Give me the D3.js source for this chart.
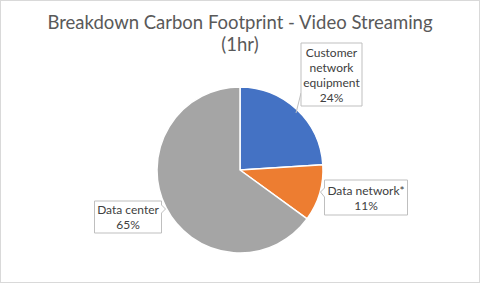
<!DOCTYPE html>
<html><head><meta charset="utf-8">
<script src="https://cdn.jsdelivr.net/npm/d3@7"></script>
<style>body{margin:0;background:#fff}svg{display:block}text{font-family:Lato,"Open Sans",sans-serif}</style>
</head><body><div id="chart"></div>
<script>
const categories = ["Customer network equipment", "Data network*", "Data center"];
const labelLines = [["Customer", "network", "equipment"], ["Data network*"], ["Data center"]];
const values = [24, 11, 65];
const percentLabels = ["24%", "11%", "65%"];
const colors = ["#4472c4", "#ed7d31", "#a5a5a5"];
const titleLines = ["Breakdown Carbon Footprint - Video Streaming", "(1hr)"];

const W = 480, H = 283;
const svg = d3.select("#chart").append("svg").attr("width", W).attr("height", H);
svg.append("rect").attr("x", 0.5).attr("y", 0.5).attr("width", W - 1).attr("height", H - 1)
  .attr("fill", "#fff").attr("stroke", "#d9d9d9");

const title = svg.append("text").attr("text-anchor", "middle").attr("fill", "#595959").style("font-size", "18.5px");
title.selectAll("tspan").data(titleLines).join("tspan").attr("x", 240).attr("y", (d, i) => 29 + i * 22).text(d => d);

const cx = 240, cy = 170, r = 83;
const pie = d3.pie().sort(null).value(d => d)(values);
const arc = d3.arc().innerRadius(0).outerRadius(r);
const g = svg.append("g").attr("transform", `translate(${cx},${cy})`);
g.selectAll("path").data(pie).join("path").attr("d", arc)
  .attr("fill", (d, i) => colors[i]).attr("stroke", "#fff").attr("stroke-width", 1.5).attr("stroke-linejoin", "round");

// label boxes: [x, y, w, h]
const boxes = [[301, 43, 61, 63], [324.5, 180, 83, 35], [94.5, 201, 67, 32]];
const lab = svg.append("g");
// leader for first label
lab.append("path").attr("d", "M296,113 L301,93").attr("stroke", "#bfbfbf").attr("fill", "none");
boxes.forEach((b, i) => {
  const [x, y, w, h] = b;
  let d;
  if (i === 0) {
    d = `M${x},${y}H${x + w}V${y + h}H${x}Z`;
  } else if (i === 1) {
    d = `M${x},${y}H${x + w}V${y + h}H${x}V${y + 17}L${x - 4},${y + 12}L${x},${y + 8}Z`;
  } else {
    d = `M${x},${y}H${x + w}V${y + 4}L${x + w + 4},${y + 8}L${x + w},${y + 12}V${y + h}H${x}Z`;
  }
  lab.append("path").attr("d", d).attr("fill", "#fff").attr("stroke", "#bfbfbf");
  const lines = labelLines[i].concat([percentLabels[i]]);
  const lh = 15;
  const t = lab.append("text").attr("text-anchor", "middle").attr("fill", "#404040").style("font-size", "12px");
  const top = y + h / 2 - (lines.length * lh) / 2;
  t.selectAll("tspan").data(lines).join("tspan").attr("x", x + w / 2)
    .attr("y", (d, k) => top + 12 + k * lh).text(d => d);
});
</script></body></html>
